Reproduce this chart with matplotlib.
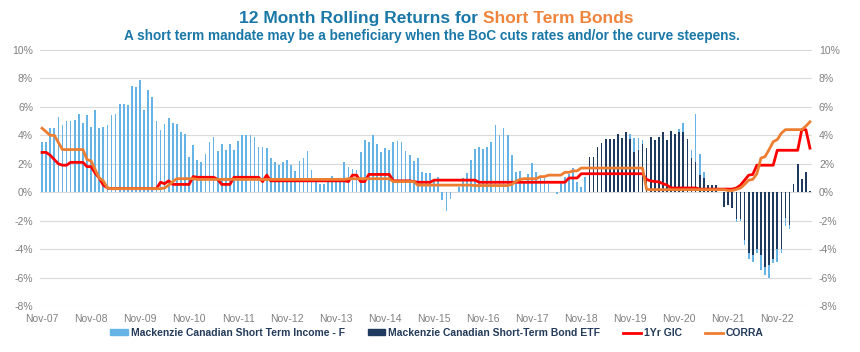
import numpy as np
import pandas as pd
import matplotlib
matplotlib.use('Agg')
from matplotlib import pyplot as plt
from matplotlib import font_manager as fm
from matplotlib.patches import Patch
from matplotlib.lines import Line2D

# monthly 12m rolling returns, Nov-07 .. Jul-23
months = pd.date_range('2007-11-01', '2023-07-01', freq='MS')
tick_labels = ['Nov-07', 'Nov-08', 'Nov-09', 'Nov-10', 'Nov-11', 'Nov-12', 'Nov-13', 'Nov-14',
               'Nov-15', 'Nov-16', 'Nov-17', 'Nov-18', 'Nov-19', 'Nov-20', 'Nov-21', 'Nov-22']
y_labels = ['-8%', '-6%', '-4%', '-2%', '0%', '2%', '4%', '6%', '8%', '10%']

short_term_income = [
    3.5, 3.5, 4.5, 4.5, 5.3, 4.7, 5.0, 5.0, 5.1, 5.5,
    4.9, 5.4, 4.6, 5.8, 4.5, 4.6, 4.7, 5.4, 5.5, 6.2,
    6.2, 6.1, 7.5, 7.4, 7.9, 5.8, 7.2, 6.7, 5.0, 4.4,
    4.8, 5.2, 4.9, 4.8, 4.2, 4.1, 2.5, 3.3, 2.3, 2.1,
    2.7, 3.5, 3.9, 2.9, 3.4, 3.0, 3.4, 3.0, 3.6, 4.0,
    4.05, 4.05, 3.9, 3.2, 3.2, 3.1, 2.4, 2.1, 1.9, 2.1,
    2.3, 1.9, 1.5, 2.2, 2.4, 2.9, 1.55, 0.75, 0.6, 0.55,
    0.75, 1.15, 1.0, 0.75, 2.1, 1.75, 1.65, 1.55, 2.8, 3.7,
    3.55, 4.05, 3.4, 2.8, 3.1, 2.95, 3.55, 3.6, 3.5, 2.9,
    2.65, 2.2, 2.4, 1.4, 1.35, 1.35, 0.85, 1.1, -0.55, -1.35,
    -0.45, 0.05, 0.4, 1.0, 1.35, 2.3, 3.05, 3.2, 3.05, 3.2,
    3.5, 4.75, 4.05, 4.5, 4.0, 2.6, 1.45, 1.5, 0.65, 1.3,
    2.05, 1.4, 1.1, 1.0, 0.55, 0.05, -0.1, 0.75, 1.1, 1.25,
    1.7, 0.75, 0.4, 1.1, 2.4, 2.3, 3.0, 3.3, 3.6, 3.6,
    3.6, 3.9, 3.7, 4.0, 4.1, 3.8, 3.8, 3.7, 3.0, 3.8,
    3.6, 3.8, 4.1, 3.6, 4.2, 4.0, 4.45, 4.9, 3.7, 3.0,
    5.5, 2.7, 1.4, 0.5, 0.5, 0.5, 0.05, -1.0, -0.9, -1.1,
    -2.1, -2.0, -3.7, -4.67, -4.9, -4.3, -5.5, -5.8, -6.0, -5.0,
    -4.9, -4.3, -2.4, -2.6, 0.55, 1.9, 0.85, 1.35, 0.08,
]

# ETF series starts Jan-19
etf_start = '2019-01-01'
short_term_etf = [
    2.5, 2.45, 3.15, 3.45, 3.75, 3.75, 3.75, 4.1, 3.8, 4.25,
    3.75, 2.8, 3.0, 3.4, 3.1,
    3.9, 3.67, 3.9, 4.25, 3.7, 4.3, 4.06, 4.2, 4.2, 3.73,
    2.42, 2.14, 1.2, 1.0, 0.54, 0.54, 0.54, 0.05,
    -1.03, -0.9, -1.1, -1.85, -1.85, -3.38, -4.3, -4.4, -3.97, -4.44,
    -5.26, -5.1, -4.67, -3.97, -3.97, -1.8, -2.3,
    0.6, 2.0, 0.92, 1.43, 0.1,
]

gic_1yr = [
    2.8, 2.8, 2.6, 2.3, 2.0, 1.9, 1.9, 2.1, 2.1, 2.1,
    2.1, 1.8, 1.8, 1.35, 1.0, 0.5, 0.3, 0.25, 0.25, 0.25,
    0.25, 0.25, 0.25, 0.25, 0.25, 0.25, 0.25, 0.25, 0.25, 0.7,
    0.6, 0.8, 0.55, 0.55, 0.55, 0.55, 0.55, 1.1, 1.05, 1.05,
    1.05, 1.05, 1.05, 0.9, 0.55, 0.55, 0.55, 1.05, 1.05, 1.05,
    1.05, 1.05, 1.05, 1.05, 0.75, 1.2, 0.8, 0.8, 0.8, 0.8,
    0.8, 0.8, 0.8, 0.8, 0.8, 0.8, 0.8, 0.8, 0.8, 0.8,
    0.8, 0.8, 0.8, 0.8, 0.8, 0.75, 1.2, 1.2, 0.75, 0.75,
    1.25, 1.25, 1.25, 1.25, 1.25, 1.25, 0.8, 0.8, 0.8, 0.8,
    0.8, 0.75, 0.7, 0.7, 0.7, 0.7, 0.85, 0.85, 0.85, 0.85,
    0.85, 0.85, 0.85, 0.85, 0.85, 0.85, 0.85, 0.7, 0.7, 0.7,
    0.7, 0.7, 0.7, 0.7, 0.7, 0.7, 0.7, 0.7, 0.7, 0.7,
    0.7, 0.7, 0.7, 0.7, 0.7, 0.7, 0.7, 0.7, 0.7, 1.0,
    1.0, 1.0, 1.3, 1.3, 1.3, 1.3, 1.3, 1.3, 1.3, 1.3,
    1.3, 1.3, 1.3, 1.3, 1.3, 1.3, 1.3, 1.3, 0.9, 0.8,
    0.75, 0.73, 0.6, 0.5, 0.3, 0.3, 0.3, 0.3, 0.3, 0.3,
    0.3, 0.22, 0.22, 0.22, 0.22, 0.22, 0.22, 0.22, 0.22, 0.22,
    0.3, 0.5, 0.85, 1.2, 1.25, 1.9, 1.9, 1.9, 1.9, 1.9,
    2.95, 2.95, 2.95, 2.95, 2.95, 2.95, 4.4, 4.4, 3.1,
]

corra = [
    4.5, 4.25, 4.0, 4.0, 3.5, 3.0, 3.0, 3.0, 3.0, 3.0,
    3.0, 2.3, 2.2, 1.6, 1.0, 0.8, 0.3, 0.25, 0.25, 0.25,
    0.25, 0.25, 0.25, 0.25, 0.25, 0.25, 0.25, 0.25, 0.25, 0.25,
    0.3, 0.5, 0.75, 0.95, 0.95, 0.95, 0.95, 0.95, 0.9, 0.9,
    0.9, 0.9, 0.9, 0.9, 0.9, 0.9, 0.9, 0.9, 0.9, 0.9,
    0.9, 0.9, 0.9, 0.9, 0.9, 0.9, 0.9, 0.9, 0.9, 0.9,
    0.9, 0.9, 0.9, 0.9, 0.9, 0.9, 0.9, 0.9, 0.9, 0.9,
    0.9, 0.9, 0.9, 0.9, 0.9, 0.95, 0.95, 0.95, 0.95, 0.95,
    0.95, 0.95, 0.95, 0.95, 0.95, 0.95, 0.75, 0.75, 0.75, 0.75,
    0.75, 0.75, 0.5, 0.5, 0.5, 0.5, 0.5, 0.5, 0.5, 0.5,
    0.5, 0.5, 0.5, 0.5, 0.5, 0.5, 0.47, 0.47, 0.47, 0.47,
    0.47, 0.47, 0.47, 0.47, 0.47, 0.55, 0.75, 0.9, 0.95, 0.95,
    0.95, 0.95, 1.1, 1.1, 1.2, 1.2, 1.2, 1.2, 1.4, 1.4,
    1.5, 1.5, 1.7, 1.7, 1.7, 1.7, 1.7, 1.7, 1.7, 1.7,
    1.7, 1.7, 1.7, 1.7, 1.7, 1.7, 1.7, 1.7, 0.2, 0.18,
    0.18, 0.18, 0.18, 0.18, 0.18, 0.18, 0.18, 0.18, 0.18, 0.18,
    0.18, 0.18, 0.18, 0.18, 0.18, 0.18, 0.18, 0.18, 0.12, 0.12,
    0.2, 0.3, 0.55, 0.85, 0.9, 1.3, 2.4, 2.5, 3.0, 3.55,
    3.7, 4.15, 4.4, 4.4, 4.4, 4.4, 4.4, 4.65, 4.95,
]

c_light = '#66B3E6'
c_dark = '#1F3A5F'
c_red = '#FF0000'
c_orange = '#ED7D31'
c_title = '#1A78A8'
c_gray = '#808080'


def pick_font(names):
    for n in names:
        try:
            fm.findfont(fm.FontProperties(family=n), fallback_to_default=False)
            return n
        except ValueError:
            pass
    return 'DejaVu Sans'


narrow = pick_font(['Liberation Sans Narrow', 'Arial Narrow'])
base = pick_font(['Liberation Sans', 'Arial'])
is_narrow = narrow != 'DejaVu Sans'
head_font = narrow if is_narrow else base
plt.rcParams['font.family'] = [head_font, 'DejaVu Sans']

x = np.arange(len(months))
x_etf = x[months >= pd.Timestamp(etf_start)]
tick_pos = x[(months.month == 11)]

fig = plt.figure(figsize=(8.6, 3.52), dpi=100)
ax = fig.add_axes([40 / 860, 1 - 306 / 352, 772 / 860, 256 / 352])

ax.bar(x, short_term_income, width=0.42, color=c_light, zorder=2)
ax.bar(x_etf, short_term_etf, width=0.42, color=c_dark, zorder=3)
ax.plot(x, gic_1yr, color=c_red, lw=2.0, zorder=4)
ax.plot(x, corra, color=c_orange, lw=2.0, zorder=5)

ax.set_xlim(-0.5, len(months) - 0.5)
ax.set_ylim(-8, 10)
ax.set_yticks(np.arange(-8, 11, 2))
ax.set_yticklabels(y_labels)
ax.set_xticks(tick_pos)
ax.set_xticklabels(tick_labels)
ax.grid(axis='y', color='#D9D9D9', lw=0.8, zorder=0)
for s in ax.spines.values():
    s.set_visible(False)
ax.tick_params(axis='both', length=0, labelsize=7.5, labelcolor=c_gray)
ax.tick_params(axis='y', labelleft=True, labelright=True, pad=5)
ax.tick_params(axis='x', pad=6)

# title in two colours
tsize = 15.5 if is_narrow else 12.5
ssize = 12 if is_narrow else 9.8
fig.text(0.562, 0.948, '12 Month Rolling Returns for ', ha='right', va='center',
         fontsize=tsize, fontweight='bold', color=c_title)
fig.text(0.562, 0.948, 'Short Term Bonds', ha='left', va='center',
         fontsize=tsize, fontweight='bold', color='#F0843C')
fig.text(0.502, 0.897, 'A short term mandate may be a beneficiary when the BoC cuts rates and/or the curve steepens.',
         ha='center', va='center', fontsize=ssize, fontweight='bold', color=c_title)

handles = [Patch(color=c_light), Patch(color=c_dark),
           Line2D([], [], color=c_red, lw=2), Line2D([], [], color=c_orange, lw=2)]
names = ['Mackenzie Canadian Short Term Income - F', 'Mackenzie Canadian Short-Term Bond ETF',
         '1Yr GIC', 'CORRA']
leg = fig.legend(handles, names, loc='center', bbox_to_anchor=(0.508, 0.054), ncol=4,
                 frameon=False, fontsize=7.5, handlelength=1.7, handleheight=0.5,
                 columnspacing=2.2, handletextpad=0.3)
for t in leg.get_texts():
    t.set_color('#243B5A')
    t.set_fontweight('bold')

fig.savefig('out.png', dpi=100)
